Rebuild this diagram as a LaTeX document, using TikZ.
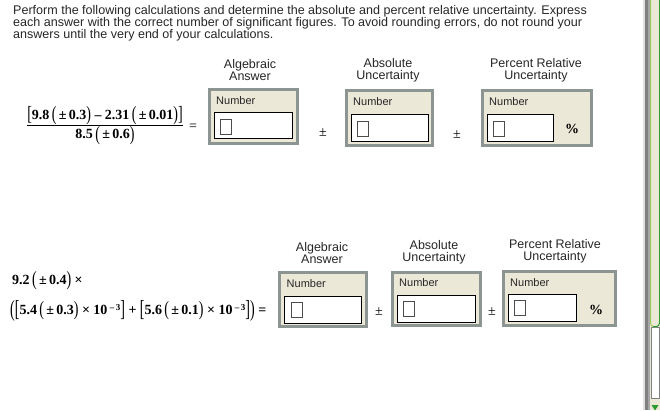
\documentclass[tikz,border=0pt]{standalone}
\usepackage{fontspec}
\setmainfont{Liberation Sans}
\newfontfamily\formfont{Liberation Serif}[Scale=1.0]
\definecolor{panelbeige}{HTML}{EBE8D8}
\definecolor{panelgray}{HTML}{8C9591}
\definecolor{scrollgreen}{HTML}{2E9A2E}
\definecolor{scrolllime}{HTML}{9ACD5A}
\newcommand{\tightlines}{\lineskiplimit=-5pt\relax}
\newcommand{\tall}[1]{\raisebox{-1.3pt}{\scalebox{1}[1.45]{\mdseries #1}}}
\newcommand{\taller}[1]{\raisebox{-2pt}{\scalebox{1}[1.65]{\mdseries #1}}}
\newcommand{\pmval}[1]{\,\tall{(}\,±\,#1\tall{)}}
\newcommand{\tenexp}{10\,\raisebox{0.6ex}{\small –\,3}}
\tikzset{
  panel/.style={draw=panelgray,line width=2.6pt,fill=panelbeige,inner sep=0pt,outer sep=0pt},
  field/.style={draw=black,line width=0.9pt,fill=white,inner sep=0pt,outer sep=0pt},
  caret/.style={draw=black!70,line width=0.7pt,fill=white,inner sep=0pt,outer sep=0pt,minimum width=11pt,minimum height=15pt},
  caption/.style={font=\fontsize{12.5}{12}\selectfont\tightlines,align=center,inner sep=0pt,text=black!85},
  tag/.style={font=\fontsize{11}{11}\selectfont,anchor=west,inner sep=0pt,text=black!85},
  formula/.style={font=\fontsize{14}{14}\formfont\bfseries,inner sep=0pt},
  plusminus/.style={font=\fontsize{14}{14}\formfont,inner sep=0pt},
}
\begin{document}
\begin{tikzpicture}[x=1pt,y=-1pt]
\useasboundingbox (0,0) rectangle (660,410);
% instructions
\node[font=\fontsize{12.55}{11.9}\selectfont\tightlines,align=left,anchor=north west,inner sep=0pt,text=black!85] (intro) at (13,5) {Perform the following calculations and determine the absolute and percent relative uncertainty. Express\\each answer with the correct number of significant figures. To avoid rounding errors, do not round your\\answers until the very end of your calculations.};
% first row
\node[caption] (head1) at (250,70.5) {Algebraic\\Answer};
\node[caption] (head2) at (388,70.5) {Absolute\\Uncertainty};
\node[caption] (head3) at (536,70.5) {Percent Relative\\Uncertainty};
\node[formula] (form1) at (105,125.5) {$\frac{\hbox{\tall{[}9.8\pmval{0.3} – 2.31\pmval{0.01}\tall{]}}}{\hbox{8.5\pmval{0.6}}}$};
\node[font=\fontsize{14}{14}\formfont,inner sep=0pt] (eq1) at (193,127) {=};
\node[panel,minimum width=88pt,minimum height=54pt] (box1) at (253.5,116.5) {};
\node[panel,minimum width=86pt,minimum height=55pt] (box2) at (389.5,118) {};
\node[panel,minimum width=109pt,minimum height=55pt] (box3) at (537,118) {};
\node[tag] (num1) at (216,100.5) {Number};
\node[tag] (num2) at (353,102) {Number};
\node[tag] (num3) at (489,102) {Number};
\node[field,minimum width=78pt,minimum height=26pt] (input1) at (253.5,125.5) {};
\node[field,minimum width=77pt,minimum height=27pt] (input2) at (390,128) {};
\node[field,minimum width=66pt,minimum height=27pt] (input3) at (520.5,128) {};
\node[caret] (caret1) at (226,126.5) {};
\node[caret] (caret2) at (363,128.5) {};
\node[caret] (caret3) at (498.5,128.5) {};
\node[plusminus] (pm1) at (323,133) {±};
\node[plusminus] (pm2) at (457,135) {±};
\node[formula] (pct1) at (572,129) {\%};
% second row
\node[caption] (head4) at (322,253) {Algebraic\\Answer};
\node[caption] (head5) at (434,252) {Absolute\\Uncertainty};
\node[caption] (head6) at (555,251) {Percent Relative\\Uncertainty};
\node[formula,anchor=west] (form2) at (12,281) {9.2\pmval{0.4} ×};
\node[formula,anchor=west] (form3) at (10,311) {\taller{(}\taller{[}5.4\pmval{0.3} × \tenexp\taller{]} + \taller{[}5.6\pmval{0.1} × \tenexp\taller{]}\taller{)} =};
\node[panel,minimum width=87pt,minimum height=54pt] (box4) at (323,299.5) {};
\node[panel,minimum width=88pt,minimum height=53pt] (box5) at (436.5,299) {};
\node[panel,minimum width=112pt,minimum height=54pt] (box6) at (559.5,298.5) {};
\node[tag] (num4) at (286.5,284) {Number};
\node[tag] (num5) at (399,283) {Number};
\node[tag] (num6) at (510,282.5) {Number};
\node[field,minimum width=77pt,minimum height=27pt] (input4) at (323,310) {};
\node[field,minimum width=78pt,minimum height=27pt] (input5) at (436.5,309) {};
\node[field,minimum width=68pt,minimum height=27pt] (input6) at (542.5,308) {};
\node[caret] (caret4) at (296.5,309.5) {};
\node[caret] (caret5) at (409,309) {};
\node[caret] (caret6) at (519.5,308) {};
\node[plusminus] (pm3) at (379,312) {±};
\node[plusminus] (pm4) at (492,312) {±};
\node[formula] (pct2) at (596,310) {\%};
% scrollbar
\fill[black!12] (643,0) rectangle (645,410);
\fill[black!50] (645,0) rectangle (648,410);
\fill[black!35] (648,0) rectangle (650,410);
\fill[panelbeige] (650,0) rectangle (660,410);
\fill[white,draw=black!50,line width=0.6pt] (651,327) rectangle (659.6,398);
\fill[panelbeige,rounded corners=2pt] (651,-3) rectangle (659,327);
\draw[scrolllime,line width=1pt] (650.5,0) -- (650.5,323) to[bend right=30] (653,326.5);
\draw[scrollgreen,line width=1pt] (653,326.5) -- (657,326.5) to[bend right=30] (659.5,323) -- (659.5,0);
\fill[scrollgreen] (651.5,405) -- (658.5,405) -- (655,410.5) -- cycle;
\end{tikzpicture}
\end{document}
